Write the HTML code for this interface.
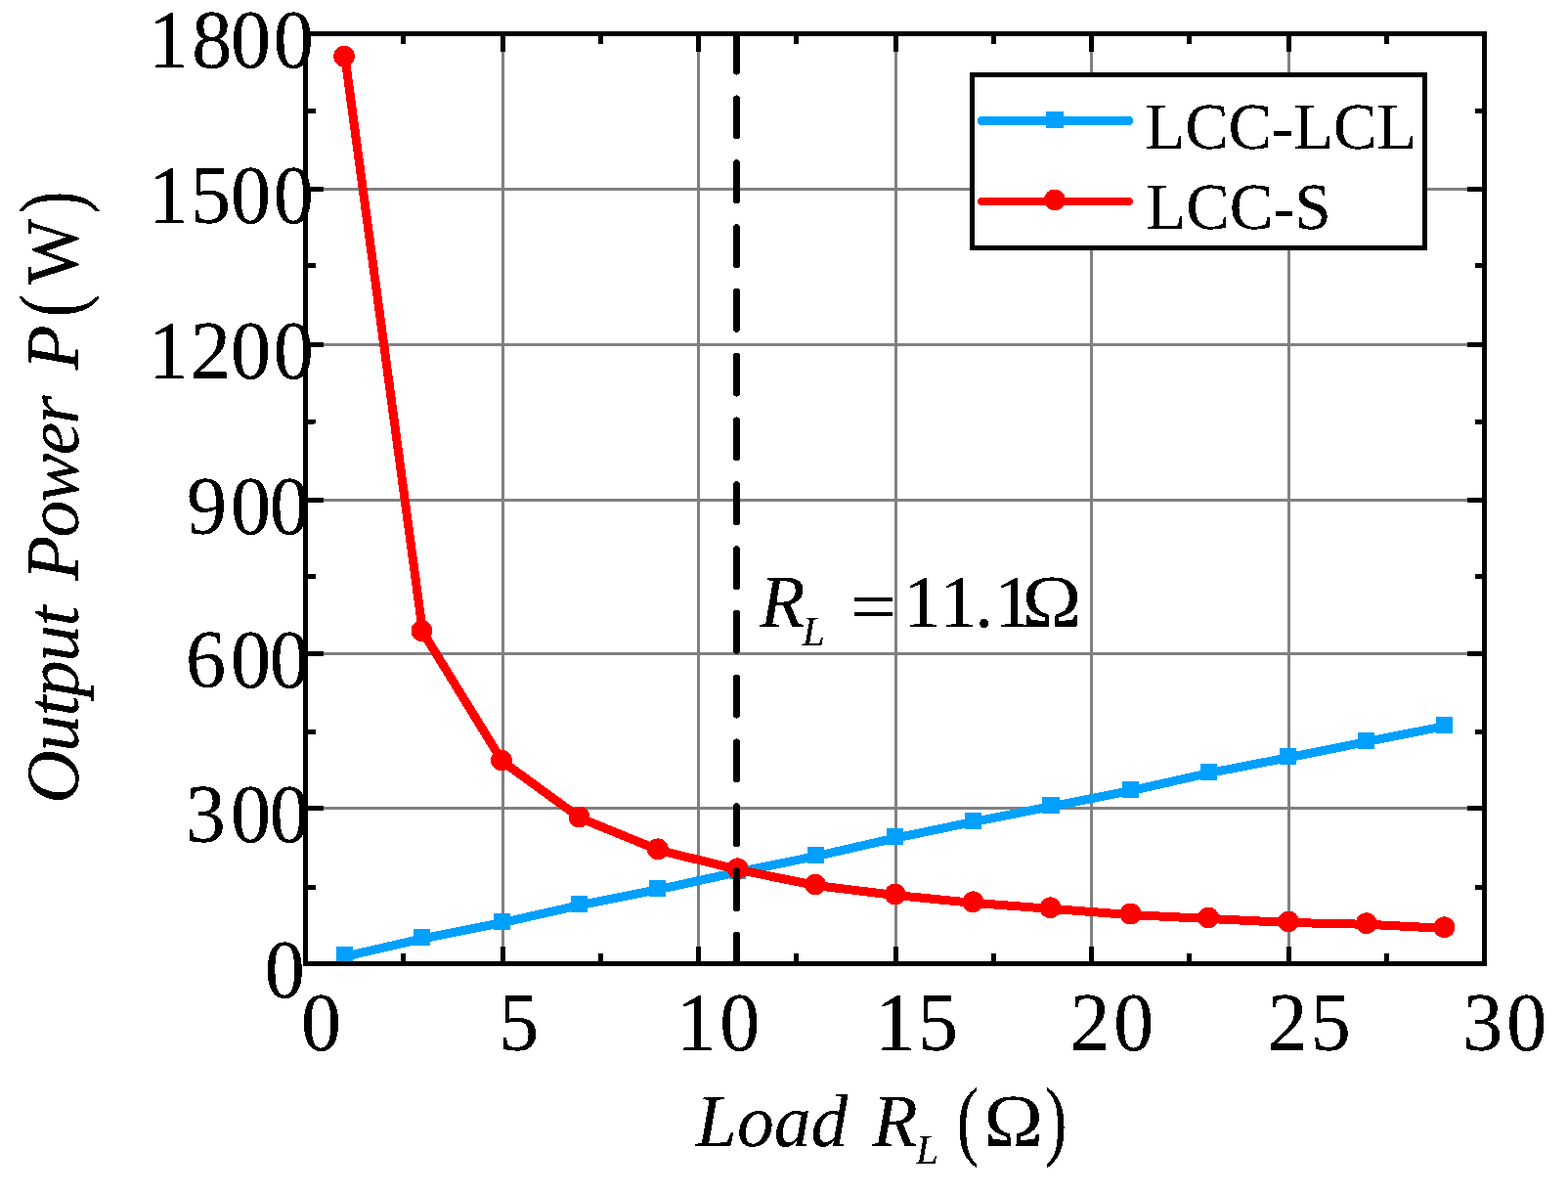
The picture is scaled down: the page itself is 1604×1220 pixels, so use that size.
<!DOCTYPE html>
<html lang="en"><head><meta charset="utf-8"><title>Output Power vs Load</title>
<style>
html,body{margin:0;padding:0;background:#fff;}
body{width:1604px;height:1220px;overflow:hidden;}
svg{display:block;}
text{font-family:"Liberation Serif","DejaVu Serif",serif;fill:#000;}
.it{font-style:italic;}
.tk{font-size:85px;}
</style></head><body>
<svg width="1604" height="1220" viewBox="0 0 1604 1220" shape-rendering="crispEdges" role="img" aria-label="Output Power P (W) versus Load R_L (Ohm) for LCC-LCL and LCC-S">
<rect x="0" y="0" width="1604" height="1220" fill="#fff"/>
<defs>
<filter id="th" x="0" y="0" width="1604" height="1220" filterUnits="userSpaceOnUse" color-interpolation-filters="sRGB"><feComponentTransfer><feFuncA type="discrete" tableValues="0 1 1"/></feComponentTransfer></filter>
<filter id="tl" x="0" y="0" width="1604" height="1220" filterUnits="userSpaceOnUse" color-interpolation-filters="sRGB"><feComponentTransfer><feFuncA type="discrete" tableValues="0 0 1 1 1"/></feComponentTransfer></filter>
</defs>
<g stroke="#808080" stroke-width="3" fill="none">
<line x1="514.5" y1="34.5" x2="514.5" y2="985.5"/>
<line x1="714.5" y1="34.5" x2="714.5" y2="985.5"/>
<line x1="916.5" y1="34.5" x2="916.5" y2="985.5"/>
<line x1="1116.5" y1="34.5" x2="1116.5" y2="985.5"/>
<line x1="1318.5" y1="34.5" x2="1318.5" y2="985.5"/>
<line x1="312.5" y1="193.5" x2="1518.5" y2="193.5"/>
<line x1="312.5" y1="352.5" x2="1518.5" y2="352.5"/>
<line x1="312.5" y1="511.5" x2="1518.5" y2="511.5"/>
<line x1="312.5" y1="668.5" x2="1518.5" y2="668.5"/>
<line x1="312.5" y1="826.5" x2="1518.5" y2="826.5"/>
</g>
<clipPath id="pc"><rect x="312.5" y="34.5" width="1206.0" height="951.0"/></clipPath>
<g clip-path="url(#pc)">
<polyline fill="none" stroke="#00A0FF" stroke-width="9" stroke-linejoin="round" points="353.1,978.1 432.7,959.7 514.1,943.5 593.6,925.6 673.7,909.6 755.3,891.7 835.3,875.5 916.6,856.9 996.6,840.3 1076.0,824.6 1157.5,808.5 1237.1,790.5 1318.6,774.6 1398.4,758.5 1478.1,742.6"/>
<g fill="#00A0FF">
<rect x="343.5" y="968.4" width="17.2" height="17.2"/>
<rect x="423.1" y="950.0" width="17.2" height="17.2"/>
<rect x="504.5" y="933.8" width="17.2" height="17.2"/>
<rect x="584.0" y="915.9" width="17.2" height="17.2"/>
<rect x="664.1" y="899.9" width="17.2" height="17.2"/>
<rect x="745.7" y="882.0" width="17.2" height="17.2"/>
<rect x="825.7" y="865.8" width="17.2" height="17.2"/>
<rect x="907.0" y="847.2" width="17.2" height="17.2"/>
<rect x="987.0" y="830.6" width="17.2" height="17.2"/>
<rect x="1066.4" y="814.9" width="17.2" height="17.2"/>
<rect x="1147.9" y="798.8" width="17.2" height="17.2"/>
<rect x="1227.5" y="780.8" width="17.2" height="17.2"/>
<rect x="1309.0" y="764.9" width="17.2" height="17.2"/>
<rect x="1388.8" y="748.8" width="17.2" height="17.2"/>
<rect x="1468.5" y="732.9" width="17.2" height="17.2"/>
</g>
<polyline fill="none" stroke="#FF0000" stroke-width="9" stroke-linejoin="round" points="353.0,58.7 432.4,646.2 513.9,778.6 593.4,836.5 673.9,869.4 755.5,889.4 835.0,905.6 916.8,915.6 996.3,923.4 1075.4,929.4 1157.4,935.6 1237.1,939.5 1319.1,943.5 1398.8,945.3 1478.4,949.4"/>
<g fill="#FF0000">
<circle cx="352.0" cy="57.6" r="10.9"/>
<circle cx="431.4" cy="645.1" r="10.9"/>
<circle cx="512.9" cy="777.5" r="10.9"/>
<circle cx="592.4" cy="835.4" r="10.9"/>
<circle cx="672.9" cy="868.3" r="10.9"/>
<circle cx="754.5" cy="888.3" r="10.9"/>
<circle cx="834.0" cy="904.5" r="10.9"/>
<circle cx="915.8" cy="914.5" r="10.9"/>
<circle cx="995.3" cy="922.3" r="10.9"/>
<circle cx="1074.4" cy="928.3" r="10.9"/>
<circle cx="1156.4" cy="934.5" r="10.9"/>
<circle cx="1236.1" cy="938.4" r="10.9"/>
<circle cx="1318.1" cy="942.4" r="10.9"/>
<circle cx="1397.8" cy="944.2" r="10.9"/>
<circle cx="1477.4" cy="948.3" r="10.9"/>
</g>
<line x1="753.5" y1="35.10" x2="753.5" y2="1005.5" stroke="#000" stroke-width="7.0" stroke-linecap="round" stroke-dasharray="38 27.8"/>
</g>
<g stroke="#000" stroke-width="5" fill="none">
<line x1="514.5" y1="34.5" x2="514.5" y2="53.0"/>
<line x1="514.5" y1="985.5" x2="514.5" y2="970.0" stroke-linecap="round"/>
<line x1="714.5" y1="34.5" x2="714.5" y2="53.0"/>
<line x1="714.5" y1="985.5" x2="714.5" y2="970.0" stroke-linecap="round"/>
<line x1="916.5" y1="34.5" x2="916.5" y2="53.0"/>
<line x1="916.5" y1="985.5" x2="916.5" y2="970.0" stroke-linecap="round"/>
<line x1="1116.5" y1="34.5" x2="1116.5" y2="53.0"/>
<line x1="1116.5" y1="985.5" x2="1116.5" y2="970.0" stroke-linecap="round"/>
<line x1="1318.5" y1="34.5" x2="1318.5" y2="53.0"/>
<line x1="1318.5" y1="985.5" x2="1318.5" y2="970.0" stroke-linecap="round"/>
<line x1="412.5" y1="34.5" x2="412.5" y2="45.0"/>
<line x1="412.5" y1="985.5" x2="412.5" y2="977.0" stroke-linecap="round"/>
<line x1="614.5" y1="34.5" x2="614.5" y2="45.0"/>
<line x1="614.5" y1="985.5" x2="614.5" y2="977.0" stroke-linecap="round"/>
<line x1="814.5" y1="34.5" x2="814.5" y2="45.0"/>
<line x1="814.5" y1="985.5" x2="814.5" y2="977.0" stroke-linecap="round"/>
<line x1="1016.5" y1="34.5" x2="1016.5" y2="45.0"/>
<line x1="1016.5" y1="985.5" x2="1016.5" y2="977.0" stroke-linecap="round"/>
<line x1="1216.5" y1="34.5" x2="1216.5" y2="45.0"/>
<line x1="1216.5" y1="985.5" x2="1216.5" y2="977.0" stroke-linecap="round"/>
<line x1="1418.5" y1="34.5" x2="1418.5" y2="45.0"/>
<line x1="1418.5" y1="985.5" x2="1418.5" y2="977.0" stroke-linecap="round"/>
<line x1="312.5" y1="193.5" x2="329.0" y2="193.5" stroke-linecap="round"/>
<line x1="1518.5" y1="193.5" x2="1500.5" y2="193.5"/>
<line x1="312.5" y1="352.5" x2="329.0" y2="352.5" stroke-linecap="round"/>
<line x1="1518.5" y1="352.5" x2="1500.5" y2="352.5"/>
<line x1="312.5" y1="511.5" x2="329.0" y2="511.5" stroke-linecap="round"/>
<line x1="1518.5" y1="511.5" x2="1500.5" y2="511.5"/>
<line x1="312.5" y1="668.5" x2="329.0" y2="668.5" stroke-linecap="round"/>
<line x1="1518.5" y1="668.5" x2="1500.5" y2="668.5"/>
<line x1="312.5" y1="826.5" x2="329.0" y2="826.5" stroke-linecap="round"/>
<line x1="1518.5" y1="826.5" x2="1500.5" y2="826.5"/>
<line x1="312.5" y1="113.5" x2="321.0" y2="113.5" stroke-linecap="round"/>
<line x1="1518.5" y1="113.5" x2="1508.5" y2="113.5"/>
<line x1="312.5" y1="271.5" x2="321.0" y2="271.5" stroke-linecap="round"/>
<line x1="1518.5" y1="271.5" x2="1508.5" y2="271.5"/>
<line x1="312.5" y1="431.0" x2="321.0" y2="431.0" stroke-linecap="round"/>
<line x1="1518.5" y1="431.0" x2="1508.5" y2="431.0"/>
<line x1="312.5" y1="589.5" x2="321.0" y2="589.5" stroke-linecap="round"/>
<line x1="1518.5" y1="589.5" x2="1508.5" y2="589.5"/>
<line x1="312.5" y1="748.5" x2="321.0" y2="748.5" stroke-linecap="round"/>
<line x1="1518.5" y1="748.5" x2="1508.5" y2="748.5"/>
<line x1="312.5" y1="907.5" x2="321.0" y2="907.5" stroke-linecap="round"/>
<line x1="1518.5" y1="907.5" x2="1508.5" y2="907.5"/>
</g>
<rect x="312.5" y="34.5" width="1206.0" height="951.0" fill="none" stroke="#000" stroke-width="5"/>
<rect x="994.5" y="76.5" width="463.0" height="177.0" fill="#fff" stroke="#000" stroke-width="5"/>
<line x1="1004.4" y1="123.5" x2="1154.7" y2="123.5" stroke="#00A0FF" stroke-width="9" stroke-linecap="round"/>
<rect x="1070" y="114" width="18" height="17" fill="#00A0FF"/>
<line x1="1004.4" y1="206" x2="1154.7" y2="206" stroke="#FF0000" stroke-width="8.5" stroke-linecap="round"/>
<circle cx="1078.9" cy="204.4" r="10.9" fill="#FF0000"/>
<g filter="url(#th)">
<text x="1171.4" y="152" font-size="66.7">LCC-LCL</text>
<text x="1172.6" y="234.2" font-size="66.7">LCC-S</text>
<text class="tk" transform="scale(0.965,1)" x="157.50 203.39 244.53 289.82" y="69.2">1800</text>
<text class="tk" transform="scale(0.965,1)" x="157.50 202.21 244.53 289.82" y="228.0">1500</text>
<text class="tk" transform="scale(0.965,1)" x="157.50 202.17 244.53 289.82" y="386.6">1200</text>
<text class="tk" transform="scale(0.965,1)" x="197.88 244.53 285.88" y="545.8">900</text>
<text class="tk" transform="scale(0.965,1)" x="196.97 244.53 285.88" y="703.2">600</text>
<text class="tk" transform="scale(0.965,1)" x="196.55 244.53 285.88" y="861.2">300</text>
<text class="tk" transform="scale(0.965,1)" x="280.70" y="1020.0">0</text>
<text class="tk" transform="scale(0.965,1)" x="319.25" y="1074.3">0</text>
<text class="tk" transform="scale(0.965,1)" x="528.74" y="1074.3">5</text>
<text class="tk" transform="scale(0.965,1)" x="717.19 762.98" y="1074.3">10</text>
<text class="tk" transform="scale(0.965,1)" x="927.66 973.09" y="1074.3">15</text>
<text class="tk" transform="scale(0.965,1)" x="1134.30 1180.49" y="1074.3">20</text>
<text class="tk" transform="scale(0.965,1)" x="1343.62 1389.47" y="1074.3">25</text>
<text class="tk" transform="scale(0.965,1)" x="1550.65 1597.18" y="1074.3">30</text>
</g>
<g filter="url(#tl)">
<text class="it" x="712.1" y="1172.2" font-size="75.5">Load</text>
<text class="it" x="892.4" y="1172.2" font-size="75.5">R</text>
<text class="it" x="936.9" y="1190.2" font-size="41.5">L</text>
<text transform="translate(978.8,1175.4) scale(0.75,1)" font-size="90.8">(</text>
<text transform="translate(1006.6,1171.8) scale(1.08,1)" font-size="75.5">Ω</text>
<text transform="translate(1068.8,1175.4) scale(0.75,1)" font-size="90.8">)</text>
<text class="it" x="777.3" y="641" font-size="75.5">R</text>
<text class="it" x="820.8" y="659.8" font-size="41.5">L</text>
<text transform="translate(869.7,646.3) scale(1.12,1)" font-size="75.5">=</text>
<text x="924.4 961.8 997.3 1017.4" y="641" font-size="75.5">11.1</text>
<text transform="translate(1045.7,641) scale(1.08,1)" font-size="75.5">Ω</text>
<g transform="translate(79.5,0) rotate(-90)">
<text class="it" x="-821.8" y="0" font-size="75.5" letter-spacing="-1.5">Output</text>
<text class="it" x="-593.8" y="0" font-size="75.5" letter-spacing="-1.9">Power</text>
<text class="it" x="-378.6" y="0" font-size="75.5">P</text>
<text transform="translate(-324.0,3.2) scale(0.75,1)" font-size="90.8">(</text>
<text transform="translate(-291.0,0) scale(0.94,1)" font-size="76">W</text>
<text transform="translate(-218.2,3.2) scale(0.75,1)" font-size="90.8">)</text>
</g>
</g>
</svg>
</body></html>
